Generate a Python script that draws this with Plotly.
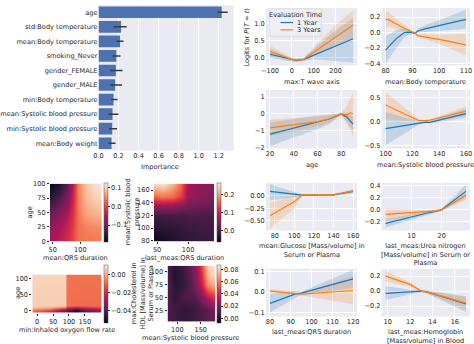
import plotly.graph_objects as go

W, H = 474, 344

# ---------------- feature importance ----------------
features = ["age", "std:Body temperature", "mean:Body temperature", "smoking_Never",
            "gender_FEMALE", "gender_MALE", "min:Body temperature",
            "mean:Systolic blood pressure", "min:Systolic blood pressure", "mean:Body weight"]
importance = [1.23, 0.225, 0.215, 0.178, 0.173, 0.166, 0.150, 0.140, 0.137, 0.130]
importance_lo = [1.19, 0.150, 0.180, 0.140, 0.115, 0.115, 0.125, 0.100, 0.105, 0.100]
importance_hi = [1.29, 0.280, 0.250, 0.220, 0.240, 0.235, 0.190, 0.200, 0.185, 0.170]
importance_ticks = [0.0, 0.2, 0.4, 0.6, 0.8, 1.0, 1.2]

# ---------------- pairwise interaction grids ----------------
qrs_x = [45, 60, 75, 85, 95, 110, 125, 138]
age_y = [0, 25, 50, 75, 100]
qrs_age_z = [
    [-0.06, -0.045, -0.02, 0.00, 0.030, 0.035, 0.035, 0.035],
    [-0.08, -0.060, -0.035, -0.01, 0.030, 0.045, 0.050, 0.050],
    [-0.11, -0.090, -0.060, -0.02, 0.035, 0.070, 0.080, 0.085],
    [-0.15, -0.130, -0.090, -0.04, 0.040, 0.085, 0.100, 0.110],
    [-0.19, -0.170, -0.120, -0.06, 0.045, 0.095, 0.115, 0.120],
]

lqrs_x = [44, 60, 75, 88, 100, 120, 142]
sbp_y = [79, 100, 120, 135, 150, 170]
lqrs_sbp_z = [
    [-0.065, -0.050, -0.040, -0.030, -0.025, -0.020, -0.015],
    [-0.035, -0.030, -0.025, -0.020, -0.015, -0.010, -0.010],
    [-0.010, -0.008, -0.005, -0.005, 0.000, 0.000, 0.000],
    [0.050, 0.060, 0.060, 0.045, 0.030, 0.025, 0.025],
    [0.160, 0.170, 0.160, 0.130, 0.060, 0.045, 0.040],
    [0.250, 0.260, 0.220, 0.160, 0.070, 0.050, 0.045],
]

oxy_x = [-15, 40, 88, 92, 120, 150, 202]
age2_y = [-6, 3, 10, 15, 112]
oxy_age_z = [
    [-0.012, -0.025, -0.040, -0.045, -0.054, -0.045, -0.035],
    [-0.005, -0.012, -0.030, -0.035, -0.045, -0.035, -0.025],
    [0.003, 0.000, -0.010, -0.020, -0.025, -0.020, -0.015],
    [0.006, 0.006, 0.006, -0.008, -0.009, -0.009, -0.009],
    [0.007, 0.007, 0.007, -0.008, -0.008, -0.008, -0.008],
]

sbp_x = [79, 95, 115, 135, 150, 165, 181]
hdl_y = [3, 25, 50, 75, 95, 112]
sbp_hdl_z = [
    [0.010, 0.008, 0.005, 0.008, 0.012, 0.015, 0.018],
    [0.012, 0.008, 0.004, 0.006, 0.010, 0.014, 0.020],
    [0.012, 0.004, 0.012, 0.012, 0.020, 0.035, 0.045],
    [0.012, 0.002, 0.006, 0.018, 0.035, 0.065, 0.075],
    [0.010, 0.001, 0.008, 0.020, 0.040, 0.075, 0.085],
    [0.010, 0.002, 0.010, 0.022, 0.045, 0.080, 0.087],
]

# ---------------- partial dependence curves (1 Year / 3 Years) ----------------
twave_x = [-100, -50, 0, 20, 55, 100, 200, 280]
twave_1y = [0.10, 0.02, -0.07, -0.08, -0.05, 0.07, 0.34, 0.55]
twave_1y_lo = [0.00, -0.05, -0.12, -0.13, -0.10, -0.05, -0.10, -0.15]
twave_1y_hi = [0.25, 0.12, -0.02, -0.03, 0.00, 0.25, 0.80, 1.15]
twave_3y = [0.18, 0.07, -0.05, -0.07, -0.05, 0.16, 0.60, 0.95]
twave_3y_lo = [0.05, -0.02, -0.10, -0.12, -0.10, 0.05, 0.35, 0.55]
twave_3y_hi = [0.35, 0.17, 0.00, -0.02, 0.00, 0.30, 0.95, 1.38]

btemp_x = [80, 81, 84, 87, 89, 91, 92, 95, 100, 110]
btemp_1y = [-0.23, -0.19, -0.08, 0.00, 0.005, -0.01, 0.02, 0.05, 0.09, 0.17]
btemp_1y_lo = [-0.40, -0.34, -0.20, -0.06, -0.03, -0.02, 0.00, 0.01, 0.02, 0.05]
btemp_1y_hi = [-0.05, -0.03, 0.03, 0.06, 0.04, 0.00, 0.05, 0.10, 0.16, 0.30]
btemp_3y = [0.17, 0.17, 0.11, 0.05, 0.02, -0.01, -0.04, -0.06, -0.09, -0.16]
btemp_3y_lo = [0.05, 0.07, 0.05, 0.01, 0.00, -0.02, -0.06, -0.09, -0.15, -0.30]
btemp_3y_hi = [0.28, 0.27, 0.18, 0.10, 0.05, 0.00, -0.02, -0.02, -0.03, -0.02]

age_x = [20, 40, 60, 70, 80, 85, 88, 90]
age_1y = [-1.20, -0.84, -0.48, -0.30, 0.00, -0.20, -0.45, -0.60]
age_1y_lo = [-1.90, -1.40, -0.90, -0.60, -0.05, -0.50, -0.80, -1.00]
age_1y_hi = [-0.50, -0.30, -0.10, -0.05, 0.05, 0.10, 0.00, -0.20]
age_3y = [-0.82, -0.65, -0.45, -0.30, 0.00, -0.05, 0.08, 0.00]
age_3y_lo = [-1.30, -1.05, -0.75, -0.55, -0.05, -0.60, -1.00, -1.30]
age_3y_hi = [-0.35, -0.25, -0.15, -0.05, 0.05, 0.50, 1.00, 1.30]

msbp_x = [100, 125, 130, 133, 160]
msbp_1y = [-0.15, -0.03, -0.01, -0.015, 0.17]
msbp_1y_lo = [-0.50, -0.06, -0.03, -0.04, 0.08]
msbp_1y_hi = [0.20, 0.00, 0.01, 0.01, 0.28]
msbp_3y = [0.35, 0.02, 0.02, 0.03, 0.22]
msbp_3y_lo = [0.05, 0.00, 0.00, 0.01, 0.13]
msbp_3y_hi = [0.62, 0.05, 0.04, 0.05, 0.32]

gluc_x = [75, 100, 106, 108, 140, 160]
gluc_1y = [0.08, 0.02, 0.00, 0.005, 0.01, 0.08]
gluc_1y_lo = [-0.10, -0.03, -0.02, -0.01, -0.01, 0.05]
gluc_1y_hi = [0.22, 0.07, 0.02, 0.02, 0.03, 0.11]
gluc_3y = [-0.40, -0.12, -0.02, 0.01, 0.01, 0.09]
gluc_3y_lo = [-0.65, -0.25, -0.06, -0.01, -0.01, 0.06]
gluc_3y_hi = [-0.15, 0.00, 0.02, 0.03, 0.03, 0.12]

urea_x = [1.5, 10, 15, 18, 20, 28]
urea_1y = [-0.23, -0.12, -0.06, -0.03, 0.00, 0.31]
urea_1y_lo = [-0.30, -0.16, -0.09, -0.05, -0.02, 0.20]
urea_1y_hi = [-0.16, -0.08, -0.03, -0.01, 0.02, 0.42]
urea_3y = [-0.08, -0.05, -0.03, -0.02, 0.00, 0.24]
urea_3y_lo = [-0.18, -0.10, -0.06, -0.04, -0.02, 0.16]
urea_3y_hi = [0.02, 0.00, 0.00, 0.00, 0.02, 0.32]

lqrs_line_x = [80, 92, 95, 120]
lqrs_1y = [-0.055, -0.010, -0.005, 0.065]
lqrs_1y_lo = [-0.100, -0.030, -0.010, 0.020]
lqrs_1y_hi = [-0.010, 0.005, 0.000, 0.110]
lqrs_3y = [0.005, -0.005, -0.010, 0.008]
lqrs_3y_lo = [-0.005, -0.012, -0.015, -0.060]
lqrs_3y_hi = [0.015, 0.002, -0.005, 0.080]

hgb_x = [9.8, 12, 13, 13.5, 17]
hgb_1y = [-0.03, -0.01, 0.00, -0.01, -0.17]
hgb_1y_lo = [-0.12, -0.04, -0.01, -0.03, -0.28]
hgb_1y_hi = [0.07, 0.02, 0.01, 0.01, -0.07]
hgb_3y = [0.20, 0.09, 0.00, -0.01, -0.16]
hgb_3y_lo = [0.13, 0.06, -0.01, -0.03, -0.24]
hgb_3y_hi = [0.27, 0.12, 0.01, 0.01, -0.08]

# ---------------- styling ----------------
TXT = "#262626"
BG = "#EAEAF2"
FONT = "DejaVu Sans"
FS = 6.6
BLUE, ORANGE = "#1f77b4", "#ff7f0e"
BLUE_BAND, ORANGE_BAND = "rgba(31,119,180,0.2)", "rgba(255,127,14,0.2)"
ROCKET = [[0.0, "#03051A"], [0.143, "#35193E"], [0.286, "#701F57"], [0.429, "#AD1759"],
          [0.571, "#E13342"], [0.714, "#F37651"], [0.857, "#F6B48F"], [1.0, "#FAEBDD"]]


def dom_x(a, b):
    return [a / W, b / W]


def dom_y(top, bottom):
    return [1 - bottom / H, 1 - top / H]


def pad(lo, hi, f=0.05):
    d = (hi - lo) * f
    return [lo - d, hi + d]


layout = dict(
    width=W, height=H, margin=dict(l=0, r=0, t=0, b=0),
    paper_bgcolor="white", plot_bgcolor=BG, showlegend=False, hovermode=False,
    font=dict(family=FONT, size=FS, color=TXT),
)
traces = []
annotations = []
shapes = []


def axis_pair(n, xdom, ydom, xr, yr, xt, yt, xfmt=None, yfmt=None, kind="line"):
    s = "" if n == 1 else str(n)
    common = dict(zeroline=False, showline=False)
    if kind == "heat":
        common.update(showgrid=False, ticks="outside", ticklen=2, tickwidth=0.6, tickcolor=TXT)
    else:
        common.update(showgrid=True, gridcolor="white", gridwidth=0.8, ticks="")
    xa = dict(common, domain=xdom, range=xr, anchor="y" + s, tickvals=xt,
              tickfont=dict(family=FONT, size=FS, color=TXT))
    ya = dict(common, domain=ydom, range=yr, anchor="x" + s, tickvals=yt,
              tickfont=dict(family=FONT, size=FS, color=TXT))
    if xfmt:
        xa["tickformat"] = xfmt
    if yfmt:
        ya["tickformat"] = yfmt
    layout["xaxis" + s] = xa
    layout["yaxis" + s] = ya
    return "x" + s, "y" + s


def label(text, x, y, angle=0, anchor="middle"):
    annotations.append(dict(text=text, x=x / W, y=1 - y / H, xref="paper", yref="paper",
                            showarrow=False, textangle=angle, xanchor="center", yanchor=anchor,
                            borderpad=0, font=dict(family=FONT, size=FS, color=TXT)))


# ---------------- bar chart of importances ----------------
xa, ya = axis_pair(1, dom_x(90, 229), dom_y(1, 150), [0, 1.35], None, importance_ticks, None, ".1f")
layout["yaxis"].update(type="category", categoryorder="array", categoryarray=features,
                       range=[len(features) - 0.5, -0.5], showgrid=False)
layout["yaxis"].pop("tickvals", None)
traces.append(go.Bar(
    x=importance, y=features, orientation="h", width=0.8,
    marker=dict(color="#4C72B0", line=dict(width=0)),
    error_x=dict(type="data", symmetric=False,
                 array=[h - v for h, v in zip(importance_hi, importance)],
                 arrayminus=[v - l for v, l in zip(importance, importance_lo)],
                 color="#3a3a3a", thickness=1.5, width=0),
    xaxis=xa, yaxis=ya, hoverinfo="skip"))
label("Importance", 153, 161.5, anchor="top")

# ---------------- heatmaps ----------------
heatmaps = [
    dict(n=2, x=qrs_x, y=age_y, z=qrs_age_z, box=(40, 93, 184, 243),
         xr=[45, 138], yr=[0, 100], xt=[50, 100], yt=[0, 25, 50, 75, 100],
         zr=(-0.19, 0.125), ct=[-0.1, 0.0, 0.1], cf=".1f", cbx=96),
    dict(n=3, x=lqrs_x, y=sbp_y, z=lqrs_sbp_z, box=(147, 209, 184, 243),
         xr=[45, 142], yr=[79, 170], xt=[50, 100], yt=[80, 100, 120, 140, 160],
         zr=(-0.067, 0.267), ct=[0.0, 0.1, 0.2], cf=".1f", cbx=212),
    dict(n=4, x=oxy_x, y=age2_y, z=oxy_age_z, box=(22, 93, 277, 316),
         xr=[-15, 202], yr=[-6, 112], xt=[0, 50, 100, 150], yt=[0, 50, 100],
         zr=(-0.054, 0.011), ct=[-0.04, -0.02, 0.0], cf=".2f", cbx=96, cby=(268, 326)),
    dict(n=5, x=sbp_x, y=hdl_y, z=sbp_hdl_z, box=(161, 210, 268, 325),
         xr=[79, 181], yr=[3, 112], xt=[100, 150], yt=[25, 50, 75, 100],
         zr=(-0.008, 0.087), ct=[0.0, 0.02, 0.04, 0.06, 0.08], cf=".2f", cbx=212, cby=(268, 326)),
]
for hm in heatmaps:
    l, r, t, b = hm["box"]
    xa, ya = axis_pair(hm["n"], dom_x(l, r), dom_y(t, b), hm["xr"], hm["yr"],
                       hm["xt"], hm["yt"], kind="heat")
    ct, cb = hm.get("cby", (t, b))
    traces.append(go.Heatmap(
        x=hm["x"], y=hm["y"], z=hm["z"], zsmooth="best", colorscale=ROCKET,
        zmin=hm["zr"][0], zmax=hm["zr"][1], xaxis=xa, yaxis=ya, hoverinfo="skip",
        colorbar=dict(x=hm["cbx"] / W, xanchor="left", xpad=0,
                      y=1 - (ct + cb) / 2 / H, yanchor="middle", ypad=0,
                      len=cb - ct, lenmode="pixels", thickness=3.5, thicknessmode="pixels",
                      outlinewidth=0.5, outlinecolor="#555555",
                      tickvals=hm["ct"], tickformat=hm["cf"], ticks="outside", ticklen=2,
                      tickwidth=0.6, tickcolor=TXT,
                      tickfont=dict(family=FONT, size=FS, color=TXT))))

label("mean:QRS duration", 66, 254.5, anchor="top")
label("age", 20, 213, -90)
label("last_meas:QRS duration", 178, 254.5, anchor="top")
label("mean:Systolic blood<br>pressure", 124.5, 213, -90)
label("min:Inhaled oxygen flow rate", 58, 329, anchor="top")
label("age", 7, 296, -90)
label("mean:Systolic blood pressure", 185, 337, anchor="top")
label("max:Cholesterol in<br>HDL [Mass/volume] in<br>Serum or Plasma", 135, 296, -90)

# ---------------- partial dependence panels ----------------
COL_L, COL_R = (262, 356), (381, 472)
ROWS = [(4, 63), (88, 148), (183, 232), (271, 320)]
panels = [
    dict(n=6, col=COL_L, row=ROWS[0], x=twave_x,
         s1=(twave_1y, twave_1y_lo, twave_1y_hi), s3=(twave_3y, twave_3y_lo, twave_3y_hi),
         yr=[-0.23, 1.45], xt=[-100, 0, 100, 200], yt=[0.0, 0.5, 1.0], yf=".1f"),
    dict(n=7, col=COL_R, row=ROWS[0], x=btemp_x,
         s1=(btemp_1y, btemp_1y_lo, btemp_1y_hi), s3=(btemp_3y, btemp_3y_lo, btemp_3y_hi),
         yr=[-0.43, 0.32], xt=[80, 90, 100, 110], yt=[-0.4, -0.2, 0.0, 0.2], yf=".1f"),
    dict(n=8, col=COL_L, row=ROWS[1], x=age_x,
         s1=(age_1y, age_1y_lo, age_1y_hi), s3=(age_3y, age_3y_lo, age_3y_hi),
         yr=[-2.05, 1.42], xt=[20, 40, 60, 80], yt=[-2, -1, 0, 1], yf="d"),
    dict(n=9, col=COL_R, row=ROWS[1], x=msbp_x,
         s1=(msbp_1y, msbp_1y_lo, msbp_1y_hi), s3=(msbp_3y, msbp_3y_lo, msbp_3y_hi),
         yr=[-0.57, 0.67], xt=[100, 120, 140, 160], yt=[-0.5, 0.0, 0.5], yf=".1f"),
    dict(n=10, col=COL_L, row=ROWS[2], x=gluc_x,
         s1=(gluc_1y, gluc_1y_lo, gluc_1y_hi), s3=(gluc_3y, gluc_3y_lo, gluc_3y_hi),
         yr=[-0.69, 0.25], xt=[80, 100, 120, 140, 160], yt=[-0.5, -0.25, 0.0], yf=".2f"),
    dict(n=11, col=COL_R, row=ROWS[2], x=urea_x,
         s1=(urea_1y, urea_1y_lo, urea_1y_hi), s3=(urea_3y, urea_3y_lo, urea_3y_hi),
         yr=[-0.35, 0.45], xt=[10, 20], yt=[-0.2, 0.0, 0.2, 0.4], yf=".1f"),
    dict(n=12, col=COL_L, row=ROWS[3], x=lqrs_line_x,
         s1=(lqrs_1y, lqrs_1y_lo, lqrs_1y_hi), s3=(lqrs_3y, lqrs_3y_lo, lqrs_3y_hi),
         yr=[-0.12, 0.115], xt=[80, 90, 100, 110, 120], yt=[-0.1, 0.0, 0.1], yf=".1f"),
    dict(n=13, col=COL_R, row=ROWS[3], x=hgb_x,
         s1=(hgb_1y, hgb_1y_lo, hgb_1y_hi), s3=(hgb_3y, hgb_3y_lo, hgb_3y_hi),
         yr=[-0.34, 0.30], xt=[10, 12, 14, 16], yt=[-0.2, 0.0, 0.2], yf=".1f"),
]
for p in panels:
    xs = p["x"]
    xa, ya = axis_pair(p["n"], dom_x(*p["col"]), dom_y(*p["row"]), pad(xs[0], xs[-1]), p["yr"],
                       p["xt"], p["yt"], yfmt=p["yf"])
    for (mean, lo, hi), band_c in ((p["s1"], BLUE_BAND), (p["s3"], ORANGE_BAND)):
        traces.append(go.Scatter(x=xs + xs[::-1], y=hi + lo[::-1], fill="toself", fillcolor=band_c,
                                 mode="lines", line=dict(width=0), xaxis=xa, yaxis=ya, hoverinfo="skip"))
    for (mean, lo, hi), line_c in ((p["s1"], BLUE), (p["s3"], ORANGE)):
        traces.append(go.Scatter(x=xs, y=mean, mode="lines", line=dict(color=line_c, width=1.2),
                                 xaxis=xa, yaxis=ya, hoverinfo="skip"))

label("max:T wave axis", 309, 75, anchor="top")
label("mean:Body temperature", 426, 75, anchor="top")
label("age", 309, 160, anchor="top")
label("mean:Systolic blood pressure", 426, 160, anchor="top")
label("mean:Glucose [Mass/volume] in<br>Serum or Plasma", 309, 243, anchor="top")
label("last_meas:Urea nitrogen<br>[Mass/volume] in Serum or<br>Plasma", 426, 243, anchor="top")
label("last_meas:QRS duration", 309, 331, anchor="top")
label("last_meas:Hemoglobin<br>[Mass/volume] in Blood", 426, 331, anchor="top")
label("Logits for <i>P</i>(<i>T</i> = <i>t</i>)", 243, 34, -90)

# ---------------- legend (Evaluation Time) ----------------
shapes.append(dict(type="rect", xref="paper", yref="paper", x0=266 / W, x1=319 / W,
                   y0=1 - 33 / H, y1=1 - 5 / H, fillcolor="rgba(240,240,246,0.85)",
                   line=dict(color="#d0d0d0", width=0.6), layer="above"))
annotations.append(dict(text="Evaluation Time", x=292.5 / W, y=1 - 11 / H, xref="paper", yref="paper",
                        showarrow=False, xanchor="center", yanchor="middle", borderpad=0,
                        font=dict(family=FONT, size=FS, color=TXT)))
for name, colour, yy in (("1 Year", BLUE, 19), ("3 Years", ORANGE, 26.5)):
    shapes.append(dict(type="line", xref="paper", yref="paper", x0=277 / W, x1=290 / W,
                       y0=1 - yy / H, y1=1 - yy / H, line=dict(color=colour, width=1.2), layer="above"))
    annotations.append(dict(text=name, x=293 / W, y=1 - yy / H, xref="paper", yref="paper",
                            showarrow=False, xanchor="left", yanchor="middle", borderpad=0,
                            font=dict(family=FONT, size=FS, color=TXT)))

layout["annotations"] = annotations
layout["shapes"] = shapes
fig = go.Figure(data=traces, layout=layout)
fig.write_html("out.html")
